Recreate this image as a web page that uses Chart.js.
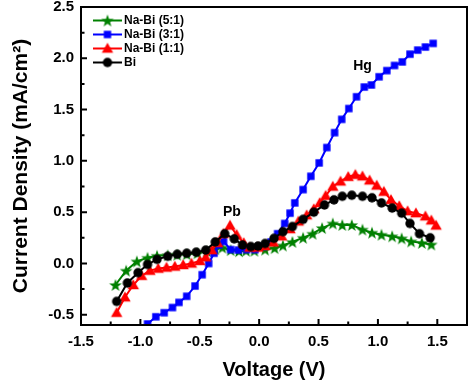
<!DOCTYPE html>
<html>
<head>
<meta charset="utf-8">
<script src="https://cdn.jsdelivr.net/npm/chart.js@4.4.1/dist/chart.umd.min.js"></script>
<style>
  html, body { margin: 0; padding: 0; background: #fff; }
</style>
</head>
<body>
<canvas id="chart" width="474" height="380"></canvas>
<script>
// Linear sweep data: voltage (V) vs current density (mA/cm2)
const seriesNames = ['Na-Bi (5:1)', 'Na-Bi (3:1)', 'Na-Bi (1:1)', 'Bi'];
const seriesColors = ['#008000', '#0000ff', '#ff0000', '#000000'];
const seriesShapes = ['star', 'square', 'triangle', 'circle'];

const v51 = [-1.21, -1.12, -1.03, -0.94, -0.86, -0.77, -0.69, -0.61, -0.52, -0.44, -0.37, -0.31, -0.24, -0.17, -0.11, -0.04,
  0.05, 0.13, 0.20, 0.28, 0.37, 0.45, 0.53, 0.62, 0.70, 0.78, 0.87, 0.95, 1.03, 1.12, 1.20, 1.28, 1.37, 1.45];
const j51 = [-0.21, -0.07, 0.02, 0.055, 0.075, 0.08, 0.085, 0.09, 0.10, 0.12, 0.14, 0.155, 0.13, 0.12, 0.125, 0.125,
  0.135, 0.15, 0.175, 0.21, 0.25, 0.29, 0.345, 0.39, 0.375, 0.375, 0.33, 0.30, 0.28, 0.265, 0.245, 0.215, 0.20, 0.185];

const v31 = [-1.0, -0.94, -0.87, -0.80, -0.73, -0.675, -0.61, -0.54, -0.48, -0.425, -0.38, -0.34, -0.30, -0.24, -0.175, -0.105, -0.035,
  0.035, 0.10, 0.155, 0.215, 0.26, 0.30, 0.37, 0.435, 0.505, 0.57, 0.635, 0.695, 0.755, 0.82, 0.885, 0.945, 1.01, 1.075, 1.14, 1.205, 1.27, 1.335, 1.40, 1.465];
const j31 = [-0.65, -0.59, -0.52, -0.48, -0.43, -0.38, -0.32, -0.22, -0.11, 0.0, 0.10, 0.18, 0.215, 0.135, 0.13, 0.135, 0.135,
  0.165, 0.21, 0.29, 0.39, 0.49, 0.59, 0.72, 0.85, 0.98, 1.13, 1.275, 1.405, 1.51, 1.625, 1.72, 1.74, 1.82, 1.88, 1.93, 1.965, 2.04, 2.08, 2.11, 2.145];

const v11 = [-1.20, -1.13, -1.06, -0.99, -0.92, -0.85, -0.78, -0.71, -0.64, -0.57, -0.50, -0.45, -0.40, -0.35, -0.30, -0.245, -0.19, -0.13, -0.08, -0.01,
  0.05, 0.12, 0.19, 0.26, 0.33, 0.40, 0.46, 0.51, 0.56, 0.62, 0.685, 0.75, 0.81, 0.87, 0.93, 0.99, 1.05, 1.11, 1.18, 1.25, 1.32, 1.40, 1.45, 1.49];
const j11 = [-0.48, -0.33, -0.21, -0.12, -0.07, -0.05, -0.04, -0.03, -0.015, 0.0, 0.025, 0.06, 0.13, 0.20, 0.29, 0.37, 0.28, 0.20, 0.155, 0.155,
  0.17, 0.205, 0.265, 0.335, 0.41, 0.47, 0.53, 0.59, 0.66, 0.75, 0.80, 0.845, 0.865, 0.85, 0.81, 0.76, 0.70, 0.62, 0.56, 0.51, 0.49, 0.46, 0.42, 0.37];

const vBi = [-1.20, -1.11, -1.02, -0.94, -0.86, -0.77, -0.69, -0.61, -0.53, -0.45, -0.37, -0.29, -0.21, -0.14, -0.07, -0.01,
  0.05, 0.125, 0.20, 0.28, 0.37, 0.46, 0.55, 0.63, 0.70, 0.78, 0.87, 0.95, 1.03, 1.12, 1.20, 1.27, 1.35, 1.44];
const jBi = [-0.37, -0.19, -0.09, -0.01, 0.04, 0.07, 0.09, 0.10, 0.11, 0.13, 0.21, 0.29, 0.24, 0.18, 0.165, 0.17,
  0.195, 0.245, 0.31, 0.36, 0.43, 0.50, 0.57, 0.62, 0.655, 0.665, 0.655, 0.64, 0.59, 0.54, 0.49, 0.39, 0.29, 0.25];

const xTicks = [-1.5, -1.0, -0.5, 0.0, 0.5, 1.0, 1.5];
const yTicks = [-0.5, 0.0, 0.5, 1.0, 1.5, 2.0, 2.5];

const peakNames = ['Hg', 'Pb'];
const peakV = [0.87, -0.23];
const peakJ = [1.92, 0.50];

const FONT = '"Liberation Sans", Arial, sans-serif';

function makeMarker(shape, color) {
  const c = document.createElement('canvas');
  c.width = 14; c.height = 14;
  const g = c.getContext('2d');
  const m = 7;
  g.fillStyle = color;
  g.beginPath();
  if (shape === 'star') {
    for (let i = 0; i < 10; i++) {
      const r = i % 2 ? 2.7 : 6.6;
      const a = -Math.PI / 2 + i * Math.PI / 5;
      g.lineTo(m + r * Math.cos(a), m + 0.6 + r * Math.sin(a));
    }
  } else if (shape === 'square') {
    g.rect(m - 3.7, m - 3.7, 7.4, 7.4);
  } else if (shape === 'triangle') {
    g.moveTo(m, m - 5.7);
    g.lineTo(m + 5.7, m + 4.2);
    g.lineTo(m - 5.7, m + 4.2);
  } else {
    g.arc(m, m, 4.7, 0, Math.PI * 2);
  }
  g.closePath();
  g.fill();
  return c;
}

const toPoints = (xs, ys) => xs.map((x, i) => ({ x, y: ys[i] }));
const allV = [v51, v31, v11, vBi];
const allJ = [j51, j31, j11, jBi];

const datasets = seriesNames.map((name, i) => {
  const marker = makeMarker(seriesShapes[i], seriesColors[i]);
  return {
    label: name,
    data: toPoints(allV[i], allJ[i]),
    borderColor: seriesColors[i],
    backgroundColor: seriesColors[i],
    borderWidth: 2,
    pointStyle: marker,
    pointRadius: 5,
    tension: 0,
    order: seriesNames.length - i, // Bi on top, as in the figure
    marker
  };
});

// frame, inward ticks, inset legend and peak labels
const decorations = {
  id: 'decorations',
  afterDraw(chart) {
    const { ctx, chartArea: a, scales: { x, y } } = chart;
    ctx.save();
    ctx.strokeStyle = '#000';
    ctx.lineWidth = 2;
    ctx.strokeRect(a.left, a.top, a.right - a.left, a.bottom - a.top);

    ctx.beginPath();
    xTicks.forEach((v, i) => {
      const px = x.getPixelForValue(v);
      ctx.moveTo(px, a.bottom); ctx.lineTo(px, a.bottom - 6);
      if (i < xTicks.length - 1) {
        const mx = x.getPixelForValue((v + xTicks[i + 1]) / 2);
        ctx.moveTo(mx, a.bottom); ctx.lineTo(mx, a.bottom - 3.5);
      }
    });
    yTicks.forEach((v, i) => {
      const py = y.getPixelForValue(v);
      ctx.moveTo(a.left, py); ctx.lineTo(a.left + 6, py);
      if (i < yTicks.length - 1) {
        const my = y.getPixelForValue((v + yTicks[i + 1]) / 2);
        ctx.moveTo(a.left, my); ctx.lineTo(a.left + 3.5, my);
      }
    });
    ctx.stroke();

    // legend
    ctx.font = 'bold 12px ' + FONT;
    ctx.textBaseline = 'middle';
    ctx.textAlign = 'left';
    chart.data.datasets.forEach((ds, i) => {
      const ly = a.top + 13.5 + i * 14;
      const lx = a.left + 12;
      ctx.strokeStyle = ds.borderColor;
      ctx.lineWidth = 2;
      ctx.beginPath();
      ctx.moveTo(lx, ly); ctx.lineTo(lx + 29, ly);
      ctx.stroke();
      ctx.drawImage(ds.marker, lx + 14.5 - 7, ly - 7);
      ctx.fillStyle = '#000';
      ctx.fillText(ds.label, lx + 31, ly + 0.5);
    });

    // peak labels
    ctx.font = 'bold 14px ' + FONT;
    ctx.textAlign = 'center';
    peakNames.forEach((t, i) => {
      ctx.fillText(t, x.getPixelForValue(peakV[i]), y.getPixelForValue(peakJ[i]));
    });
    ctx.restore();
  }
};

const tickFont = { family: FONT, size: 15, weight: 'bold' };

new Chart(document.getElementById('chart'), {
  type: 'line',
  data: { datasets },
  options: {
    responsive: false,
    devicePixelRatio: 1,
    animation: false,
    layout: { padding: { top: 6.5, right: 3, bottom: 0, left: 0 } },
    plugins: { legend: { display: false }, tooltip: { enabled: false } },
    scales: {
      x: {
        type: 'linear',
        min: -1.5,
        max: 1.75,
        afterBuildTicks: s => { s.ticks = xTicks.map(v => ({ value: v })); },
        afterFit: s => { s.height = 55; s.paddingLeft = 0; s.paddingRight = 0; },
        grid: { display: false, drawTicks: false },
        border: { display: false },
        ticks: { color: '#000', font: tickFont, padding: 8, maxRotation: 0, autoSkip: false, callback: v => v.toFixed(1) },
        title: { display: true, text: 'Voltage (V)', color: '#000', font: { family: FONT, size: 20, weight: 'bold' }, padding: { top: 0, bottom: -2 } }
      },
      y: {
        type: 'linear',
        min: -0.6,
        max: 2.5,
        afterBuildTicks: s => { s.ticks = yTicks.map(v => ({ value: v })); },
        afterFit: s => { s.width = 81; s.paddingTop = 0; s.paddingBottom = 0; },
        grid: { display: false, drawTicks: false },
        border: { display: false },
        ticks: { color: '#000', font: tickFont, padding: 7, autoSkip: false, callback: v => v.toFixed(1) },
        title: { display: true, text: 'Current Density (mA/cm²)', color: '#000', font: { family: FONT, size: 21, weight: 'bold' }, padding: { top: 9, bottom: 0 } }
      }
    }
  },
  plugins: [decorations]
});
</script>
</body>
</html>
